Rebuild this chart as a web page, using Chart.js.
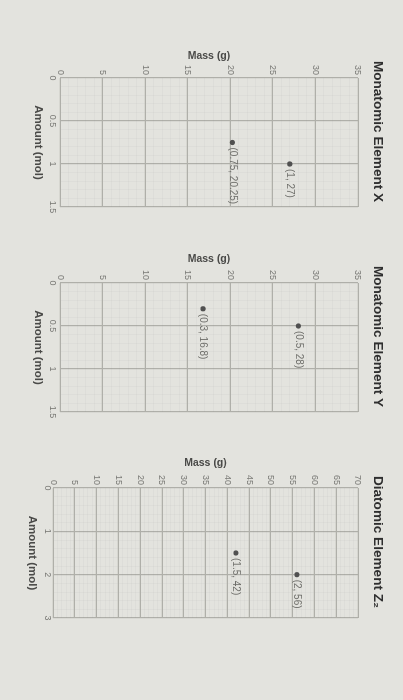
<!DOCTYPE html>
<html>
<head>
<meta charset="utf-8">
<script src="https://cdn.jsdelivr.net/npm/chart.js@4.4.1/dist/chart.umd.min.js"></script>
<style>
  html, body { margin:0; padding:0; width:403px; height:700px; overflow:hidden; background:#e3e3de; }
  #page { position:absolute; left:0; top:0; width:700px; height:403px;
          transform-origin:0 0; transform:translate(403px,0) rotate(90deg); }
  .box { position:absolute; top:0; }
  canvas { display:block; }
</style>
</head>
<body>
<div id="page">
  <div class="box" id="boxX"><canvas id="chartX"></canvas></div>
  <div class="box" id="boxY"><canvas id="chartY"></canvas></div>
  <div class="box" id="boxZ"><canvas id="chartZ"></canvas></div>
</div>
<script>
// ---------- DATA ----------
const titleX = 'Monatomic Element X';
const titleY = 'Monatomic Element Y';
const titleZ = 'Diatomic Element Z\u2082';

const amountX = [0.75, 1];
const massX   = [20.25, 27];

const amountY = [0.3, 0.5];
const massY   = [16.8, 28];

const amountZ = [1.5, 2];
const massZ   = [42, 56];

const massTicksXY   = ['0','5','10','15','20','25','30','35'];
const amountTicksXY = ['0','0.5','1','1.5'];
const massTicksZ    = ['0','5','10','15','20','25','30','35','40','45','50','55','60','65','70'];
const amountTicksZ  = ['0','1','2','3'];

const xAxisTitle = 'Amount (mol)';
const yAxisTitle = 'Mass (g)';

// ---------- STYLE ----------
const FONT = '"Liberation Sans", Arial, Helvetica, sans-serif';
const MAJOR = '#afafa9';
const MINOR = 'rgba(140,140,130,0.08)';
const PAD_LEFT = 18;   // shifts the centred title to the right
const Y_AXIS_W = 22;   // PAD_LEFT + Y_AXIS_W = space left of the plot

function makeTicks(labels, subdiv) {
  const vals = labels.map(Number);
  const major = vals[1] - vals[0];
  const minor = major / subdiv;
  const n = Math.round((vals[vals.length - 1] - vals[0]) / minor);
  const out = [];
  for (let i = 0; i <= n; i++) out.push({ value: Math.round((vals[0] + i * minor) * 1e6) / 1e6 });
  const isMajor = v => Math.abs(v / major - Math.round(v / major)) < 1e-6;
  const labelOf = v => isMajor(v) ? labels[Math.round((v - vals[0]) / major)] : '';
  return { list: out, isMajor, labelOf, min: vals[0], max: vals[vals.length - 1] };
}

const pointLabelPlugin = {
  id: 'ptlabels',
  afterDatasetsDraw(chart, args, opts) {
    const meta = chart.getDatasetMeta(0);
    const ctx = chart.ctx;
    ctx.save();
    ctx.font = '10px ' + FONT;
    ctx.fillStyle = '#6e6e6a';
    ctx.textBaseline = 'middle';
    ctx.textAlign = 'left';
    meta.data.forEach((pt, i) => ctx.fillText(opts.labels[i], pt.x + 5, pt.y));
    ctx.restore();
  }
};

function build(canvasId, boxId, lay, title, amounts, masses, amountLabels, massLabels, amountSub, massSub) {
  const H = 385;
  const W = lay.u1 - lay.u0 + PAD_LEFT + Y_AXIS_W + 10;
  const box = document.getElementById(boxId);
  box.style.left = (lay.u0 - PAD_LEFT - Y_AXIS_W) + 'px';
  box.style.width = W + 'px';
  box.style.height = H + 'px';
  const cv = document.getElementById(canvasId);
  cv.width = W; cv.height = H;
  cv.style.width = W + 'px'; cv.style.height = H + 'px';

  const xt = makeTicks(amountLabels, amountSub);
  const yt = makeTicks(massLabels, massSub);
  const ptLabels = amounts.map((a, i) => '(' + a + ', ' + masses[i] + ')');
  const yTitleFont = 10.5;
  // desired centre of y title, measured from the y-scale's left edge
  const yTitleOffset = lay.yTitleU - (lay.u0 - Y_AXIS_W);

  new Chart(cv, {
    type: 'scatter',
    data: {
      datasets: [{
        data: amounts.map((a, i) => ({ x: a, y: masses[i] })),
        pointRadius: 2.6,
        pointBackgroundColor: '#505050',
        pointBorderColor: '#505050',
        pointBorderWidth: 0
      }]
    },
    options: {
      responsive: false,
      animation: false,
      events: [],
      layout: { padding: { left: PAD_LEFT, right: 10, top: 0, bottom: 0 } },
      plugins: {
        legend: { display: false },
        tooltip: { enabled: false },
        title: {
          display: true, text: title, color: '#2f2f2f',
          font: { family: FONT, size: 13.6, weight: 'bold' },
          padding: { top: 16.8, bottom: 11.9 }
        },
        ptlabels: { labels: ptLabels }
      },
      scales: {
        x: {
          type: 'linear', position: 'bottom', min: xt.min, max: xt.max,
          afterBuildTicks: s => { s.ticks = xt.list.map(t => ({ value: t.value })); },
          afterFit: s => { s.height = H - lay.vb; },
          ticks: {
            autoSkip: false, maxRotation: 0, minRotation: 0, padding: lay.xTickPad,
            color: '#7a7a76', font: { family: FONT, size: 9 },
            callback: v => xt.labelOf(v)
          },
          grid: {
            drawTicks: false,
            color: c => xt.isMajor(c.tick.value) ? MAJOR : MINOR,
            lineWidth: c => xt.isMajor(c.tick.value) ? 1.2 : 0.8
          },
          border: { display: false },
          title: {
            display: true, text: xAxisTitle, color: '#4a4a48',
            font: { family: FONT, size: 11.5, weight: 'bold' },
            padding: { top: 0, bottom: lay.xTitlePad }
          }
        },
        y: {
          type: 'linear', position: 'left', min: yt.min, max: yt.max,
          afterBuildTicks: s => { s.ticks = yt.list.map(t => ({ value: t.value })); },
          afterFit: s => { s.width = Y_AXIS_W; },
          ticks: {
            autoSkip: false, padding: 3,
            color: '#7a7a76', font: { family: FONT, size: 9 },
            callback: v => yt.labelOf(v)
          },
          grid: {
            drawTicks: false,
            color: c => yt.isMajor(c.tick.value) ? MAJOR : MINOR,
            lineWidth: c => yt.isMajor(c.tick.value) ? 1.2 : 0.8
          },
          border: { display: false },
          title: {
            display: true, text: yAxisTitle, color: '#4a4a48',
            font: { family: FONT, size: yTitleFont, weight: 'bold' },
            padding: { top: yTitleOffset - yTitleFont * 1.2 / 2, bottom: 0 }
          }
        }
      }
    },
    plugins: [pointLabelPlugin]
  });
}

build('chartX', 'boxX', { u0: 78,  u1: 207, vb: 343, xTickPad: 2.6, xTitlePad: 13, yTitleU: 56 },
      titleX, amountX, massX, amountTicksXY, massTicksXY, 5, 5);
build('chartY', 'boxY', { u0: 283, u1: 412, vb: 343, xTickPad: 2.6, xTitlePad: 13, yTitleU: 259 },
      titleY, amountY, massY, amountTicksXY, massTicksXY, 5, 5);
build('chartZ', 'boxZ', { u0: 488, u1: 618, vb: 350, xTickPad: 0, xTitlePad: 7.6, yTitleU: 463 },
      titleZ, amountZ, massZ, amountTicksZ, massTicksZ, 5, 5);
</script>
</body>
</html>
